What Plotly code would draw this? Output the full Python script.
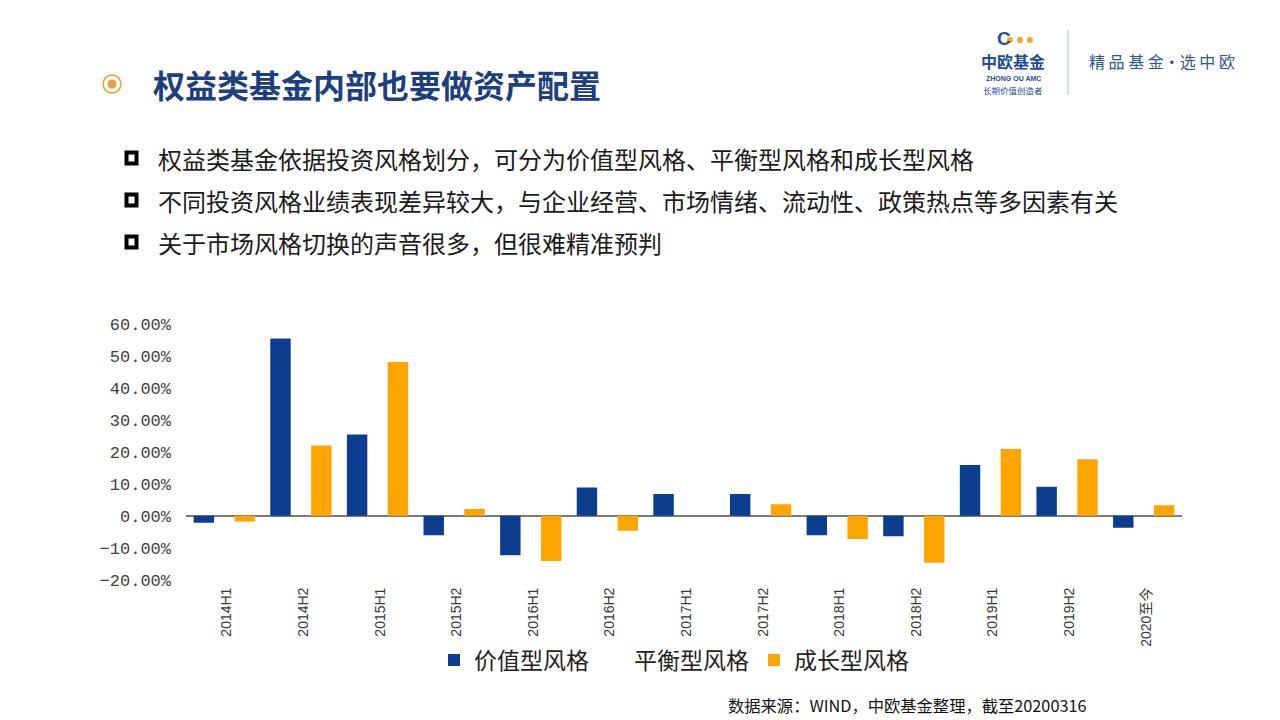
import plotly.graph_objects as go

# ---------------- data ----------------
categories = ["2014H1", "2014H2", "2015H1", "2015H2", "2016H1", "2016H2", "2017H1",
              "2017H2", "2018H1", "2018H2", "2019H1", "2019H2", "2020至今"]
value_style = [-2.2, 55.5, 25.4, -6.1, -12.4, 8.8, 6.8, 6.8, -6.1, -6.4, 15.9, 9.1, -3.8]
balanced_style = [None, None, None, None, None, None, None, None, None, None, None, None, None]
growth_style = [-1.8, 22.0, 48.1, 2.1, -14.2, -4.7, 0.0, 3.6, -7.3, -14.7, 20.9, 17.7, 3.3]
series_names = ["价值型风格", "平衡型风格", "成长型风格"]
y_ticks = [-20, -10, 0, 10, 20, 30, 40, 50, 60]
y_tick_labels = ["−20.00%", "−10.00%", "0.00%", "10.00%", "20.00%", "30.00%",
                 "40.00%", "50.00%", "60.00%"]

title_text = "权益类基金内部也要做资产配置"
bullets = ["权益类基金依据投资风格划分，可分为价值型风格、平衡型风格和成长型风格",
           "不同投资风格业绩表现差异较大，与企业经营、市场情绪、流动性、政策热点等多因素有关",
           "关于市场风格切换的声音很多，但很难精准预判"]
source_text = "数据来源：WIND，中欧基金整理，截至20200316"

W, H = 1280, 720
CJK = "Noto Sans CJK SC"
BLUE = "#0d3d8f"
ORANGE = "#ffa500"


def px(x):
    return x / W


def py(y):
    return 1 - y / H


fig = go.Figure()
fig.add_trace(go.Bar(x=categories, y=value_style, name=series_names[0],
                     marker=dict(color=BLUE, line=dict(width=0))))
fig.add_trace(go.Bar(x=categories, y=balanced_style, name=series_names[1],
                     marker=dict(color="rgba(255,255,255,0)", line=dict(width=0))))
fig.add_trace(go.Bar(x=categories, y=growth_style, name=series_names[2],
                     marker=dict(color=ORANGE, line=dict(width=0))))

annotations = []
shapes = []

# title with icon
shapes.append(dict(type="circle", xref="paper", yref="paper",
                   x0=px(103), x1=px(121), y0=py(93), y1=py(75),
                   line=dict(color="#e8a33d", width=1.5), fillcolor="white"))
shapes.append(dict(type="circle", xref="paper", yref="paper",
                   x0=px(107.5), x1=px(116.5), y0=py(88.5), y1=py(79.5),
                   line=dict(width=0), fillcolor="#e9a23b"))
annotations.append(dict(text=title_text, xref="paper", yref="paper", x=px(151), y=py(84),
                        xanchor="left", yanchor="middle", showarrow=False,
                        font=dict(family=CJK, size=32, color="#1d3f7d", weight="bold")))

# bullets
for i, b in enumerate(bullets):
    cy = 158 + 42 * i
    shapes.append(dict(type="rect", xref="paper", yref="paper",
                       x0=px(124.5), x1=px(138.5), y0=py(cy + 7.5), y1=py(cy - 7.5),
                       line=dict(width=0), fillcolor="black"))
    shapes.append(dict(type="rect", xref="paper", yref="paper",
                       x0=px(128.5), x1=px(134.5), y0=py(cy + 3.5), y1=py(cy - 3.5),
                       line=dict(width=0), fillcolor="white"))
    annotations.append(dict(text=b, xref="paper", yref="paper", x=px(156), y=py(cy),
                            xanchor="left", yanchor="middle", showarrow=False,
                            font=dict(family=CJK, size=24, color="#1a1a1a")))

# logo
LOGO_BLUE = "#1d4c9b"
annotations.append(dict(text="<b>C</b>", xref="paper", yref="paper", x=px(1004), y=py(38.5),
                        xanchor="center", yanchor="middle", showarrow=False,
                        font=dict(family="Liberation Sans", size=19, color=LOGO_BLUE)))
for cx in [1010, 1020, 1030]:
    shapes.append(dict(type="circle", xref="paper", yref="paper",
                       x0=px(cx - 3), x1=px(cx + 3), y0=py(43), y1=py(37),
                       line=dict(width=0), fillcolor="#f5a623"))
annotations.append(dict(text="中欧基金", xref="paper", yref="paper", x=px(1013), y=py(61),
                        xanchor="center", yanchor="middle", showarrow=False,
                        font=dict(family=CJK, size=16, color=LOGO_BLUE, weight="bold")))
annotations.append(dict(text="ZHONG OU AMC", xref="paper", yref="paper", x=px(1013), y=py(78),
                        xanchor="center", yanchor="middle", showarrow=False,
                        font=dict(family="Liberation Sans", size=7, color=LOGO_BLUE, weight="bold")))
annotations.append(dict(text="长期价值创造者", xref="paper", yref="paper", x=px(1013), y=py(90),
                        xanchor="center", yanchor="middle", showarrow=False,
                        font=dict(family=CJK, size=8.5, color=LOGO_BLUE)))
shapes.append(dict(type="line", xref="paper", yref="paper",
                   x0=px(1068), x1=px(1068), y0=py(30), y1=py(95),
                   line=dict(color="#b9c3d6", width=1.2)))
annotations.append(dict(text="精 品 基 金·选 中 欧", xref="paper", yref="paper", x=px(1087), y=py(61),
                        xanchor="left", yanchor="middle", showarrow=False,
                        font=dict(family=CJK, size=16, color="#2a5597")))

# source
annotations.append(dict(text=source_text, xref="paper", yref="paper", x=px(726), y=py(705),
                        xanchor="left", yanchor="middle", showarrow=False,
                        font=dict(family=CJK, size=16.3, color="#111111")))

fig.update_layout(
    width=W, height=H,
    margin=dict(l=0, r=0, t=0, b=0, pad=0),
    paper_bgcolor="white", plot_bgcolor="white",
    barmode="group", bargap=0.2, bargroupgap=0,
    showlegend=True,
    legend=dict(orientation="h", x=px(674), xanchor="center", y=py(660), yanchor="middle",
                font=dict(family=CJK, size=23, color="#222222"), bgcolor="rgba(0,0,0,0)",
                itemwidth=30, traceorder="normal"),
    xaxis=dict(domain=[px(186), px(1182)], showgrid=False, showline=False, zeroline=False,
               ticks="", tickangle=-89.99, automargin=False, ticklabelstandoff=0,
               tickfont=dict(family="Liberation Sans, " + CJK, size=14, color="#383838")),
    yaxis=dict(domain=[py(579.6), py(324)], range=[-20, 60], tickvals=y_ticks,
               ticktext=y_tick_labels, showgrid=False, showline=False,
               zeroline=True, zerolinecolor="#7a7a7a", zerolinewidth=1.5,
               ticks="", ticklabelstandoff=14, automargin=False,
               tickfont=dict(family="Liberation Mono", size=17, color="#404040")),
    annotations=annotations,
    shapes=shapes,
)

fig.write_html("out.html")
